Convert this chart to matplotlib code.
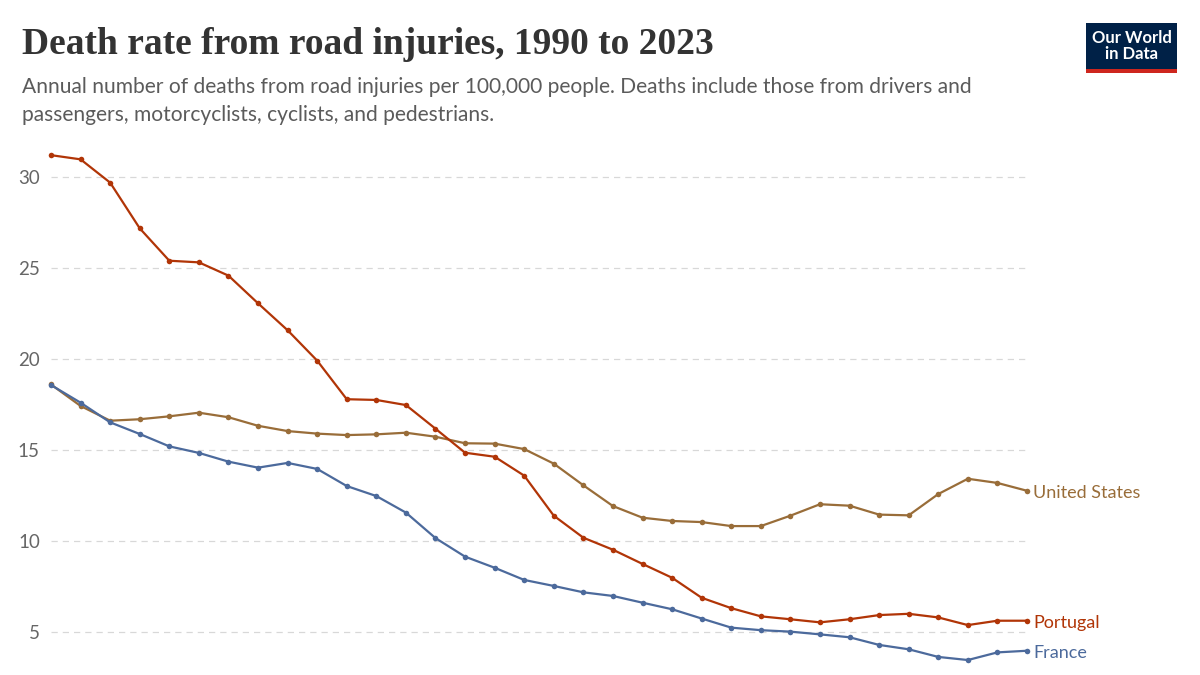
import matplotlib.pyplot as plt
from matplotlib.patches import Rectangle

years = list(range(1990, 2024))

france = [18.57, 17.6, 16.52, 15.88, 15.2, 14.84, 14.36, 14.03, 14.29, 13.96,
          13.02, 12.47, 11.56, 10.16, 9.14, 8.53, 7.86, 7.53, 7.18, 6.98,
          6.61, 6.25, 5.74, 5.24, 5.1, 5.02, 4.87, 4.71, 4.29, 4.05,
          3.63, 3.46, 3.88, 3.97]

portugal = [31.2, 30.97, 29.69, 27.18, 25.4, 25.31, 24.58, 23.06, 21.58, 19.91,
            17.79, 17.75, 17.47, 16.17, 14.85, 14.63, 13.59, 11.39, 10.18, 9.52,
            8.74, 7.98, 6.88, 6.31, 5.86, 5.7, 5.53, 5.7, 5.93, 6.0,
            5.8, 5.38, 5.62, 5.62]

united_states = [18.6, 17.42, 16.61, 16.69, 16.85, 17.05, 16.8, 16.33, 16.04, 15.9,
                 15.82, 15.86, 15.95, 15.73, 15.37, 15.35, 15.05, 14.25, 13.06, 11.92,
                 11.28, 11.1, 11.04, 10.82, 10.82, 11.39, 12.02, 11.94, 11.45, 11.41,
                 12.58, 13.42, 13.19, 12.76]

series = [
    ("United States", united_states, "#996d39"),
    ("Portugal", portugal, "#b13507"),
    ("France", france, "#4c6a9c"),
]

yticks = [5, 10, 15, 20, 25, 30]

fig = plt.figure(figsize=(12, 6.75), dpi=100)
ax = fig.add_axes([51 / 1200, (675 - 723) / 675, 976 / 1200, (723 - 140.6) / 675])
ax.set_xlim(1990, 2023)
ax.set_ylim(0, 32)

for name, vals, color in series:
    ax.plot(years, vals, color=color, lw=1.6, marker="o", ms=4,
            markeredgewidth=0, clip_on=False, zorder=3)
    ax.text(2023 + 0.2, vals[-1] - 0.1, name, color=color, fontsize=13,
            family="Lato", va="center", ha="left")

for y in yticks:
    ax.axhline(y, color="#d8d8d8", lw=0.9, ls=(0, (5, 4)), zorder=1)
ax.set_yticks(yticks)
ax.set_yticklabels([str(y) for y in yticks], family="Lato", fontsize=13.5, color="#666666")
ax.tick_params(axis="y", length=0, pad=8)
ax.set_xticks([])
for s in ax.spines.values():
    s.set_visible(False)

fig.text(22 / 1200, 1 - 45 / 675, "Death rate from road injuries, 1990 to 2023",
         family="Liberation Serif", fontweight="bold", fontsize=27, color="#333333",
         va="center", ha="left")
fig.text(22 / 1200, 1 - 101 / 675,
         "Annual number of deaths from road injuries per 100,000 people. Deaths include those from drivers and\n"
         "passengers, motorcyclists, cyclists, and pedestrians.",
         family="Lato", fontsize=15.1, color="#5b5b5b", va="center", ha="left", linespacing=1.45)

# logo
fig.patches.append(Rectangle((1086 / 1200, 1 - 73 / 675), 91 / 1200, 50 / 675,
                             transform=fig.transFigure, facecolor="#002147", edgecolor="none"))
fig.patches.append(Rectangle((1086 / 1200, 1 - 73 / 675), 91 / 1200, 4 / 675,
                             transform=fig.transFigure, facecolor="#ce261e", edgecolor="none"))
fig.text(1131.5 / 1200, 1 - 46 / 675, "Our World\nin Data", family="Lato", fontsize=12,
         fontweight="bold", color="white", ha="center", va="center", linespacing=1.0)

fig.savefig("out.png", dpi=100, facecolor="white")
